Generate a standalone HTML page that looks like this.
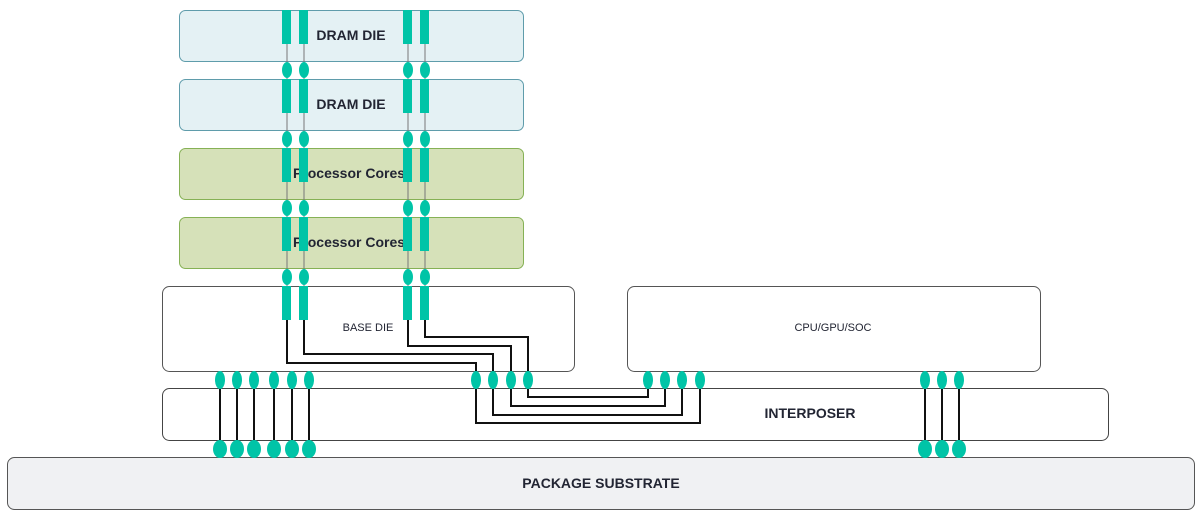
<!DOCTYPE html>
<html><head><meta charset="utf-8"><style>
html,body{margin:0;padding:0;background:#fff;}
svg{display:block;}
text{font-family:"Liberation Sans",sans-serif;fill:#222533;}
</style></head><body>
<svg width="1200" height="515" viewBox="0 0 1200 515" xmlns="http://www.w3.org/2000/svg">
<rect x="179.5" y="10.5" width="344" height="51" rx="6" fill="#e4f1f4" stroke="#5f9cab"/>
<rect x="179.5" y="79.5" width="344" height="51" rx="6" fill="#e4f1f4" stroke="#5f9cab"/>
<rect x="179.5" y="148.5" width="344" height="51" rx="6" fill="#d6e1b9" stroke="#86b155"/>
<rect x="179.5" y="217.5" width="344" height="51" rx="6" fill="#d6e1b9" stroke="#86b155"/>
<rect x="162.5" y="286.5" width="412" height="85" rx="7" fill="#fff" stroke="#555"/>
<rect x="627.5" y="286.5" width="413" height="85" rx="7" fill="#fff" stroke="#555"/>
<rect x="162.5" y="388.5" width="946" height="52" rx="7" fill="#fff" stroke="#444"/>
<rect x="7.5" y="457.5" width="1187" height="52" rx="7" fill="#f0f1f3" stroke="#555"/>

<text x="351" y="40" font-size="14" font-weight="bold" text-anchor="middle">DRAM DIE</text>
<text x="351" y="109" font-size="14" font-weight="bold" text-anchor="middle">DRAM DIE</text>
<text x="349" y="178" font-size="14" font-weight="bold" text-anchor="middle">Processor Cores</text>
<text x="349" y="247" font-size="14" font-weight="bold" text-anchor="middle">Processor Cores</text>
<text x="368" y="331" font-size="11" text-anchor="middle">BASE DIE</text>
<text x="833" y="331" font-size="11" text-anchor="middle">CPU/GPU/SOC</text>
<text x="810" y="418" font-size="14" font-weight="bold" text-anchor="middle">INTERPOSER</text>
<text x="601" y="488" font-size="14" font-weight="bold" text-anchor="middle">PACKAGE SUBSTRATE</text>

<g stroke="#777" stroke-width="1">
<line x1="287" y1="10" x2="287" y2="300"/><line x1="304" y1="10" x2="304" y2="300"/>
<line x1="408" y1="10" x2="408" y2="300"/><line x1="425" y1="10" x2="425" y2="300"/>
</g>
<g fill="#00c4a7">
<rect x="282" y="10" width="9" height="34"/><rect x="299" y="10" width="9" height="34"/><rect x="403" y="10" width="9" height="34"/><rect x="420" y="10" width="9" height="34"/>
<rect x="282" y="79" width="9" height="34"/><rect x="299" y="79" width="9" height="34"/><rect x="403" y="79" width="9" height="34"/><rect x="420" y="79" width="9" height="34"/>
<rect x="282" y="148" width="9" height="34"/><rect x="299" y="148" width="9" height="34"/><rect x="403" y="148" width="9" height="34"/><rect x="420" y="148" width="9" height="34"/>
<rect x="282" y="217" width="9" height="34"/><rect x="299" y="217" width="9" height="34"/><rect x="403" y="217" width="9" height="34"/><rect x="420" y="217" width="9" height="34"/>
<rect x="282" y="286" width="9" height="34"/><rect x="299" y="286" width="9" height="34"/><rect x="403" y="286" width="9" height="34"/><rect x="420" y="286" width="9" height="34"/>
</g>
<g fill="#00c4a7">
<ellipse cx="287" cy="70" rx="5" ry="8"/><ellipse cx="304" cy="70" rx="5" ry="8"/><ellipse cx="408" cy="70" rx="5" ry="8"/><ellipse cx="425" cy="70" rx="5" ry="8"/>
<ellipse cx="287" cy="139" rx="5" ry="8"/><ellipse cx="304" cy="139" rx="5" ry="8"/><ellipse cx="408" cy="139" rx="5" ry="8"/><ellipse cx="425" cy="139" rx="5" ry="8"/>
<ellipse cx="287" cy="208" rx="5" ry="8"/><ellipse cx="304" cy="208" rx="5" ry="8"/><ellipse cx="408" cy="208" rx="5" ry="8"/><ellipse cx="425" cy="208" rx="5" ry="8"/>
<ellipse cx="287" cy="277" rx="5" ry="8"/><ellipse cx="304" cy="277" rx="5" ry="8"/><ellipse cx="408" cy="277" rx="5" ry="8"/><ellipse cx="425" cy="277" rx="5" ry="8"/>
</g>
<g stroke="#111" stroke-width="2" fill="none">
<polyline points="287,320 287,363 476,363 476,380 476,423 700,423 700,380"/>
<polyline points="304,320 304,354 493,354 493,415 682,415 682,380"/>
<polyline points="408,320 408,346 511,346 511,406 665,406 665,380"/>
<polyline points="425,320 425,337 528,337 528,397 648,397 648,380"/>
<line x1="220" y1="380" x2="220" y2="449"/><line x1="237" y1="380" x2="237" y2="449"/><line x1="254" y1="380" x2="254" y2="449"/>
<line x1="274" y1="380" x2="274" y2="449"/><line x1="292" y1="380" x2="292" y2="449"/><line x1="309" y1="380" x2="309" y2="449"/>
<line x1="925" y1="380" x2="925" y2="449"/><line x1="942" y1="380" x2="942" y2="449"/><line x1="959" y1="380" x2="959" y2="449"/>
</g>
<g fill="#00c4a7">
<ellipse cx="220" cy="380" rx="5" ry="9"/><ellipse cx="237" cy="380" rx="5" ry="9"/><ellipse cx="254" cy="380" rx="5" ry="9"/>
<ellipse cx="274" cy="380" rx="5" ry="9"/><ellipse cx="292" cy="380" rx="5" ry="9"/><ellipse cx="309" cy="380" rx="5" ry="9"/>
<ellipse cx="476" cy="380" rx="5" ry="9"/><ellipse cx="493" cy="380" rx="5" ry="9"/><ellipse cx="511" cy="380" rx="5" ry="9"/><ellipse cx="528" cy="380" rx="5" ry="9"/>
<ellipse cx="648" cy="380" rx="5" ry="9"/><ellipse cx="665" cy="380" rx="5" ry="9"/><ellipse cx="682" cy="380" rx="5" ry="9"/><ellipse cx="700" cy="380" rx="5" ry="9"/>
<ellipse cx="925" cy="380" rx="5" ry="9"/><ellipse cx="942" cy="380" rx="5" ry="9"/><ellipse cx="959" cy="380" rx="5" ry="9"/>
<ellipse cx="220" cy="449" rx="7" ry="9"/><ellipse cx="237" cy="449" rx="7" ry="9"/><ellipse cx="254" cy="449" rx="7" ry="9"/>
<ellipse cx="274" cy="449" rx="7" ry="9"/><ellipse cx="292" cy="449" rx="7" ry="9"/><ellipse cx="309" cy="449" rx="7" ry="9"/>
<ellipse cx="925" cy="449" rx="7" ry="9"/><ellipse cx="942" cy="449" rx="7" ry="9"/><ellipse cx="959" cy="449" rx="7" ry="9"/>
</g>
</svg>
</body></html>
